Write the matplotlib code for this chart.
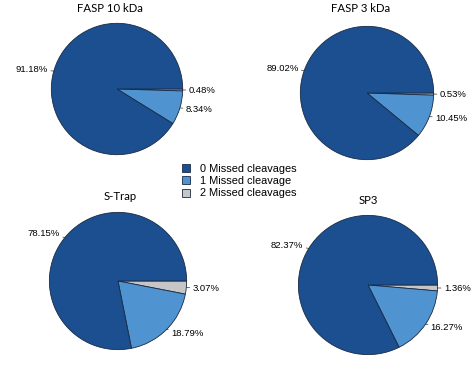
import numpy as np
import matplotlib.pyplot as plt
from matplotlib.patches import Patch

W, H = 474, 372

titles = ["FASP 10 kDa", "FASP 3 kDa", "S-Trap", "SP3"]
missed_0 = [91.18, 89.02, 78.15, 82.37]
missed_1 = [8.34, 10.45, 18.79, 16.27]
missed_2 = [0.48, 0.53, 3.07, 1.36]
legend_labels = ["0 Missed cleavages", "1 Missed cleavage", "2 Missed cleavages"]
colors = ["#1b4f8f", "#4f93d0", "#c6c6c6"]

# pixel layout: pie centre x, y, radius and title position
centres = [(117, 89, 67), (367, 93, 68), (118, 281, 70), (368, 285, 71)]
title_pos = [(110, 8), (361, 8), (120, 196), (368, 200)]

fig = plt.figure(figsize=(W / 100, H / 100), dpi=100)

for i, title in enumerate(titles):
    cx, cy, r = centres[i]
    ax = fig.add_axes([(cx - r) / W, 1 - (cy + r) / H, 2 * r / W, 2 * r / H])
    vals = [missed_2[i], missed_1[i], missed_0[i]]
    cols = [colors[2], colors[1], colors[0]]
    wedges, _ = ax.pie(vals, colors=cols, startangle=0, counterclock=False, radius=1,
                       wedgeprops=dict(edgecolor="#1a2a44", linewidth=0.6))
    ax.set_xlim(-1.02, 1.02)
    ax.set_ylim(-1.02, 1.02)
    ax.set_aspect("equal")
    ax.axis("off")
    for w, v in zip(wedges, vals):
        ang = np.deg2rad((w.theta1 + w.theta2) / 2)
        c, s = np.cos(ang), np.sin(ang)
        ha = "left" if c > 0 else "right"
        ax.annotate(f"{v:.2f}%", xy=(c, s), xytext=(1.09 * c, 1.09 * s),
                    ha=ha, va="center", fontsize=6.8, family="Liberation Sans",
                    arrowprops=dict(arrowstyle="-", lw=0.5, color="#333333",
                                    shrinkA=0, shrinkB=0),
                    annotation_clip=False)
    tx, ty = title_pos[i]
    fig.text(tx / W, 1 - ty / H, title, ha="center", va="center",
             fontsize=8.2, family="Lato")

handles = [Patch(facecolor=c, edgecolor="#1a2a44", linewidth=0.6) for c in colors]
fig.legend(handles, legend_labels, loc="upper left", bbox_to_anchor=(182 / W, 1 - 164 / H),
           frameon=False, prop={"family": "Liberation Sans", "size": 7.9},
           handlelength=0.75, handleheight=0.75, handletextpad=0.9, labelspacing=0.2,
           borderpad=0, borderaxespad=0)

fig.savefig("out.png", dpi=100)
